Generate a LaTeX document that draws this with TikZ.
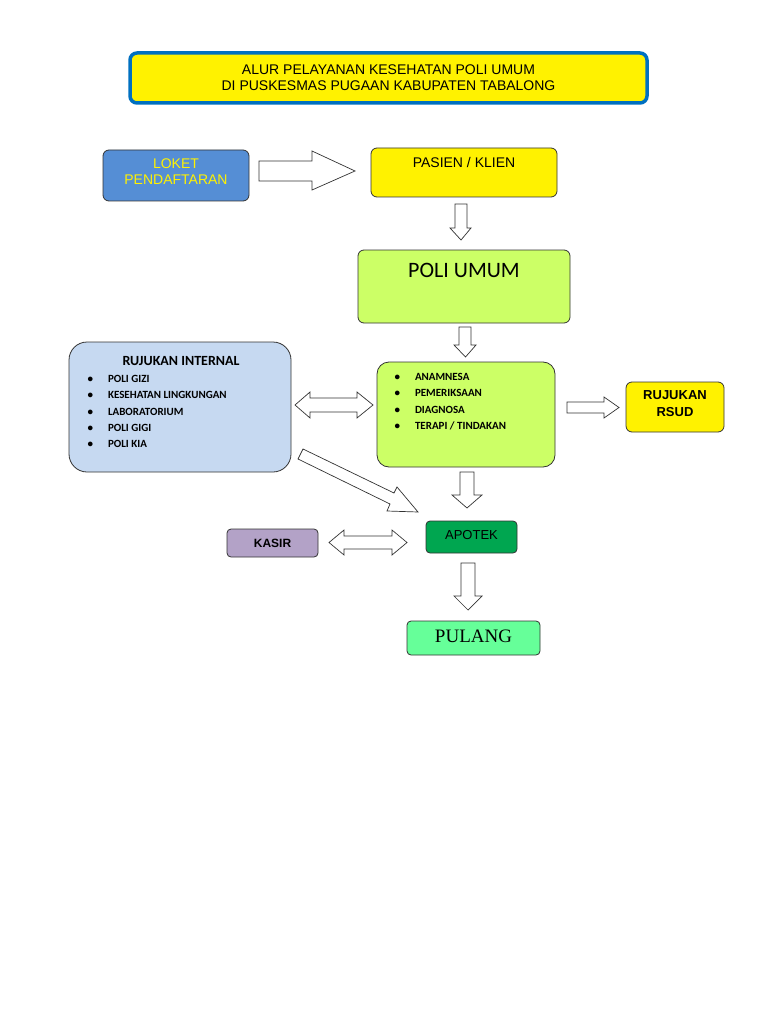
\documentclass[tikz,border=0pt]{standalone}
\usepackage{fontspec}
\setmainfont{Liberation Sans}
\newfontfamily\carlitofont{Carlito}
\newfontfamily\tmsfont{Liberation Serif}
\begin{document}
\begin{tikzpicture}[x=1pt,y=-1pt,
  box/.style={draw=black!80,line width=0.8pt,rounded corners=6pt},
  blk/.style={draw=black!80,fill=white,line width=0.7pt}]
\useasboundingbox (0,0) rectangle (768,1024);
\definecolor{tb}{HTML}{0070C0}
\definecolor{lk}{HTML}{558ED5}
\definecolor{lg}{HTML}{CCFF66}
\definecolor{lb}{HTML}{C6D9F1}
\definecolor{ap}{HTML}{00A650}
\definecolor{ks}{HTML}{B3A2C7}
\definecolor{pl}{HTML}{66FF99}
% title
\draw[draw=tb,line width=3.5pt,fill=yellow,rounded corners=7pt] (130,53) rectangle (647,103);
\node[align=center,font=\fontsize{14}{16}\selectfont] (title) at (388.5,78) {ALUR PELAYANAN KESEHATAN POLI UMUM\\DI PUSKESMAS PUGAAN KABUPATEN TABALONG};
% boxes
\draw[box,fill=lk] (103,150) rectangle (249,201);
\node[text=yellow,align=center,font=\fontsize{14}{16}\selectfont] (loket) at (176,172) {LOKET\\PENDAFTARAN};
\draw[box,fill=yellow] (371,148) rectangle (557,197);
\node[font=\fontsize{14}{16}\selectfont] (pasien) at (464,162) {PASIEN / KLIEN};
\draw[box,fill=lg] (358,250) rectangle (570,323);
\node[font=\carlitofont\fontsize{22}{24}\selectfont] (poli) at (464,270) {POLI UMUM};
\draw[box,fill=lb,rounded corners=18pt] (69,342) rectangle (291,472);
\node[font=\carlitofont\bfseries\fontsize{14}{16}\selectfont] (rint) at (181,361) {RUJUKAN INTERNAL};
\node[anchor=north west,align=left,font=\carlitofont\bfseries\fontsize{11}{16.2}\selectfont] (rlist) at (84,372)
 {\textbullet\hspace{15pt}POLI GIZI\\\textbullet\hspace{15pt}KESEHATAN LINGKUNGAN\\\textbullet\hspace{15pt}LABORATORIUM\\\textbullet\hspace{15pt}POLI GIGI\\\textbullet\hspace{15pt}POLI KIA};
\draw[box,fill=lg,rounded corners=12pt] (377,362) rectangle (555,467);
\node[anchor=north west,align=left,font=\carlitofont\bfseries\fontsize{11}{16.2}\selectfont] (clist) at (391,370)
 {\textbullet\hspace{15pt}ANAMNESA\\\textbullet\hspace{15pt}PEMERIKSAAN\\\textbullet\hspace{15pt}DIAGNOSA\\\textbullet\hspace{15pt}TERAPI / TINDAKAN};
\draw[box,fill=yellow] (626,382) rectangle (724,432);
\node[align=center,font=\bfseries\fontsize{13}{17}\selectfont] (rsud) at (675,404) {RUJUKAN\\RSUD};
\draw[box,fill=ap,rounded corners=4pt] (426,521) rectangle (517,553);
\node[font=\fontsize{13}{15}\selectfont] (apotek) at (471.5,535) {APOTEK};
\draw[box,fill=ks,rounded corners=4pt] (227,529) rectangle (318,557);
\node[font=\bfseries\fontsize{12}{14}\selectfont] (kasir) at (272.5,543) {KASIR};
\draw[box,fill=pl,rounded corners=4pt] (407,621) rectangle (540,655);
\node[font=\tmsfont\fontsize{19}{21}\selectfont] (pulang) at (473.5,636) {PULANG};
% block arrows
\draw[blk] (259,161) -- (312,161) -- (312,151) -- (355,171) -- (312,190) -- (312,181) -- (259,181) -- cycle;
\draw[blk] (455,204) -- (467,204) -- (467,228) -- (471,228) -- (461,240) -- (450,228) -- (455,228) -- cycle;
\draw[blk] (459,327) -- (471,327) -- (471,345) -- (476,345) -- (465.5,357) -- (454,345) -- (459,345) -- cycle;
\draw[blk] (295,405) -- (310,392) -- (310,398) -- (357,398) -- (357,392) -- (373,405) -- (357,418) -- (357,412) -- (310,412) -- (310,418) -- cycle;
\draw[blk] (567,402) -- (604,402) -- (604,397) -- (619,407.5) -- (604,418) -- (604,413) -- (567,413) -- cycle;
\draw[blk] (298,459) -- (303,449) -- (394,493) -- (397,487) -- (418,512) -- (387,511) -- (390,504) -- cycle;
\draw[blk] (460,472) -- (474,472) -- (474,495) -- (482,495) -- (467,508) -- (452,495) -- (460,495) -- cycle;
\draw[blk] (329,542.5) -- (344,530) -- (344,536) -- (392,536) -- (392,530) -- (407,542.5) -- (392,555) -- (392,549) -- (344,549) -- (344,555) -- cycle;
\draw[blk] (461,563) -- (475,563) -- (475,596) -- (482,596) -- (468,610) -- (454,596) -- (461,596) -- cycle;
\end{tikzpicture}
\end{document}
